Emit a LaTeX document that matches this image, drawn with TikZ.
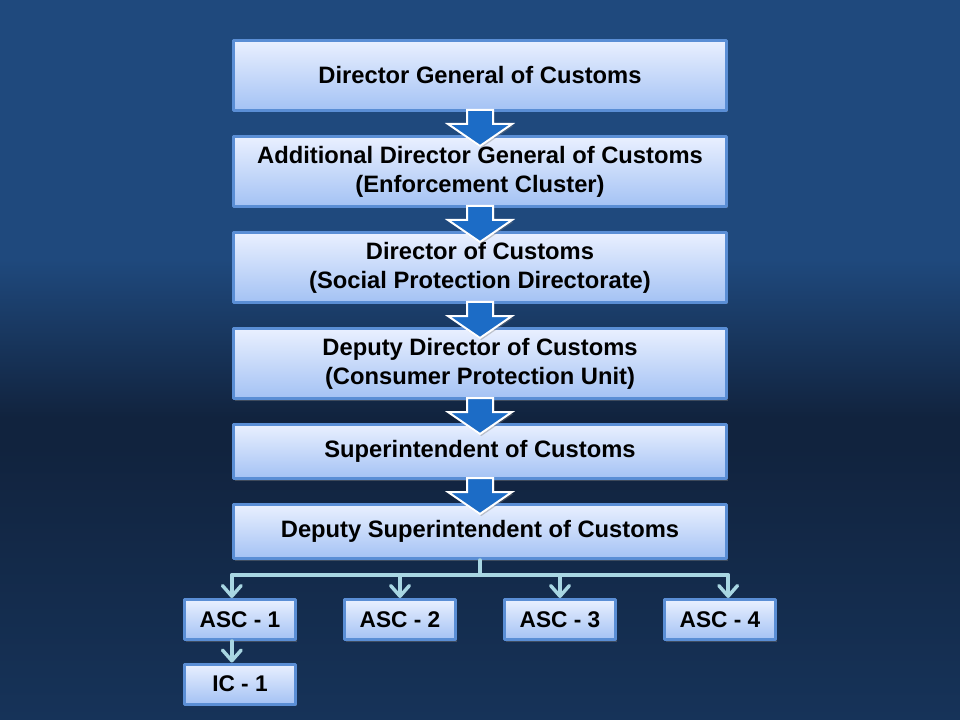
\documentclass[tikz,border=0pt]{standalone}
\usepackage{fontspec}
\setmainfont{Liberation Sans}
\usepackage{tikz}
\usetikzlibrary{arrows.meta,shadows,calc}

\definecolor{bgtop}{RGB}{31,73,125}
\definecolor{bgmid}{RGB}{17,35,62}
\definecolor{bgbot}{RGB}{22,51,89}
\definecolor{boxtop}{RGB}{233,240,255}
\definecolor{boxbot}{RGB}{164,194,244}
\definecolor{boxline}{RGB}{90,142,213}
\definecolor{arrblue}{RGB}{28,108,198}
\definecolor{linkcol}{RGB}{168,214,226}

\pgfdeclareverticalshading{bgshade}{100bp}{color(0bp)=(bgbot); color(25bp)=(bgbot); color(44bp)=(bgmid); color(46bp)=(bgmid); color(57bp)=(bgtop); color(100bp)=(bgtop)}

\tikzset{
  post/.style={draw=boxline,line width=2.25pt,top color=boxtop,bottom color=boxbot,
    font=\bfseries\fontsize{17.8}{21.8}\selectfont,align=center,inner sep=0pt,
    minimum width=370pt,drop shadow={shadow xshift=1pt,shadow yshift=-1.5pt,opacity=0.4}},
  tall/.style={minimum height=52.5pt},
  flat/.style={minimum height=40.5pt},
  unit/.style={post,font=\bfseries\fontsize{17}{20}\selectfont,minimum width=83pt,minimum height=30pt},
  link/.style={draw=linkcol,line width=2.6pt},
  linkarr/.style={link,-{Straight Barb[round,length=8pt,width=14pt]}},
  pics/downarr/.style={code={
    \draw [white,line width=1.5pt,fill=arrblue,line join=miter,
      drop shadow={shadow xshift=1pt,shadow yshift=-1.5pt,opacity=0.4}]
      (-13,2) -- (13,2) -- (13,-12) -- (32,-12) -- (0,-34) -- (-32,-12) -- (-13,-12) -- cycle;}}
}

\begin{document}
\begin{tikzpicture}[line cap=round,line join=round,x=0.75pt,y=0.75pt]
    % \clip(0.,0.) rectangle (960.,-720.);
    \useasboundingbox (0.,0.) rectangle (960.,-720.);
    \shade [shading=bgshade] (0.,0.) rectangle (960.,-720.);
    \node [post,tall] (dgc) at (480.,-75.5) {Director General of Customs};
    \node [post,tall] (adgc) at (480.,-171.5) {Additional Director General of Customs\\(Enforcement Cluster)};
    \node [post,tall] (dc) at (480.,-267.5) {Director of Customs\\(Social Protection Directorate)};
    \node [post,tall] (ddc) at (480.,-363.5) {Deputy Director of Customs\\(Consumer Protection Unit)};
    \node [post,flat] (sc) at (480.,-451.5) {Superintendent of Customs};
    \node [post,flat] (dsc) at (480.,-531.5) {Deputy Superintendent of Customs};
    \pic at (dgc.south) {downarr};
    \pic at (adgc.south) {downarr};
    \pic at (dc.south) {downarr};
    \pic at (ddc.south) {downarr};
    \pic at (sc.south) {downarr};
    \node [unit] (asc1) at (240.,-619.5) {ASC - 1};
    \node [unit] (asc2) at (400.,-619.5) {ASC - 2};
    \node [unit] (asc3) at (560.,-619.5) {ASC - 3};
    \node [unit] (asc4) at (720.,-619.5) {ASC - 4};
    \node [unit] (ic1) at (240.,-684.) {IC - 1};
    \coordinate (bus) at ($(dsc.south)+(0.,-15.)$);
    \draw [link] (dsc.south) -- (bus);
    \draw [link] (bus -| dsc.west) -- (bus -| dsc.east);
    \draw [linkarr] (bus -| dsc.west) -- (asc1.north -| dsc.west);
    \draw [linkarr] (bus -| asc2.north) -- (asc2.north);
    \draw [linkarr] (bus -| asc3.north) -- (asc3.north);
    \draw [linkarr] (bus -| dsc.east) -- (asc4.north -| dsc.east);
    \draw [linkarr] (asc1.south -| dsc.west) -- (ic1.north -| dsc.west);
\end{tikzpicture}
\end{document}
